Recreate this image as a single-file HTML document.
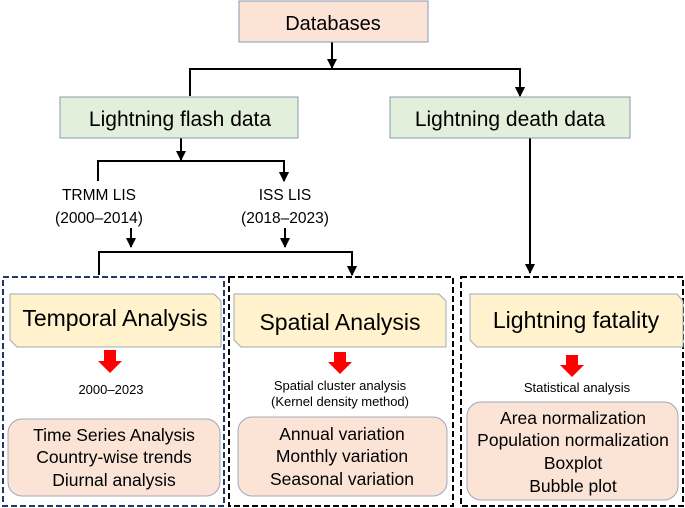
<!DOCTYPE html>
<html><head><meta charset="utf-8"><style>
body{margin:0;background:#fff}
svg{display:block;font-family:"Liberation Sans",Arial,sans-serif}
</style></head><body>
<svg width="685" height="508" viewBox="0 0 685 508" xmlns="http://www.w3.org/2000/svg">
<defs>
<marker id="a" viewBox="0 0 10 10" refX="9" refY="5" markerWidth="5" markerHeight="5" orient="auto"><path d="M0,0L10,5L0,10z" fill="#000"/></marker>
</defs>
<g stroke="#000" stroke-width="2" fill="none">
<path d="M332,42V68" marker-end="url(#a)"/>
<path d="M190,96V69H520V96" marker-end="url(#a)"/>
<path d="M520,69V96" marker-end="url(#a)"/>
<path d="M181,138V160" marker-end="url(#a)"/>
<path d="M98,181V161H284V181" marker-end="url(#a)"/>
<path d="M284,161V181" marker-end="url(#a)"/>
<path d="M131,228V247" marker-end="url(#a)"/>
<path d="M285,228V247" marker-end="url(#a)"/>
<path d="M99,275V252H352V275" marker-end="url(#a)"/>
<path d="M352,252V275" marker-end="url(#a)"/>
<path d="M530,138V273" marker-end="url(#a)"/>
</g>
<rect x="239" y="1" width="189" height="41" fill="#fbe3d6" stroke="#8a9ab5" stroke-width="1"/>
<text x="333" y="30" font-size="20" text-anchor="middle">Databases</text>
<rect x="60" y="97" width="238" height="41" fill="#e2efda" stroke="#8a9ab5" stroke-width="1"/>
<text x="180" y="126" font-size="21" text-anchor="middle">Lightning flash data</text>
<rect x="390" y="97" width="240" height="41" fill="#e2efda" stroke="#8a9ab5" stroke-width="1"/>
<text x="510" y="126" font-size="21" text-anchor="middle">Lightning death data</text>
<g font-size="15.5" text-anchor="middle">
<text x="99" y="200">TRMM LIS</text><text x="99" y="223">(2000–2014)</text>
<text x="285" y="200">ISS LIS</text><text x="285" y="223">(2018–2023)</text>
</g>
<rect x="3" y="277" width="221" height="229" fill="none" stroke="#1f3864" stroke-width="2" stroke-dasharray="6,3"/>
<rect x="229" y="277" width="224" height="229" fill="none" stroke="#000" stroke-width="2" stroke-dasharray="6,3"/>
<rect x="461" y="277" width="222" height="229" fill="none" stroke="#000" stroke-width="2" stroke-dasharray="6,3"/>
<g fill="#fff2cc" stroke="#a0a8b8" stroke-width="1">
<path d="M10,294H214L221,301V347H17L10,340z"/>
<path d="M234,294H439L446,301V347H241L234,340z"/>
<path d="M470,294H677L683,301V347H477L470,340z"/>
</g>
<g font-size="23" text-anchor="middle">
<text x="115" y="326">Temporal Analysis</text>
<text x="340" y="330">Spatial Analysis</text>
<text x="576" y="328">Lightning fatality</text>
</g>
<g fill="#f00">
<path d="M104,350H116V361H122L110,373L98,361H104z"/>
<path d="M334,352H346V362H352L340,374L328,362H334z"/>
<path d="M566,355H578V365H584L572,377L560,365H566z"/>
</g>
<g font-size="13" text-anchor="middle">
<text x="111" y="394">2000–2023</text>
<text x="340" y="390">Spatial cluster analysis</text>
<text x="340" y="406">(Kernel density method)</text>
<text x="577" y="392">Statistical analysis</text>
</g>
<g fill="#fbe3d6" stroke="#a0a8b8" stroke-width="1">
<rect x="8" y="419" width="212" height="77" rx="14"/>
<rect x="238" y="417" width="209" height="79" rx="14"/>
<rect x="467" y="402" width="211" height="98" rx="14"/>
</g>
<g font-size="17.5" text-anchor="middle">
<text x="114" y="441">Time Series Analysis</text>
<text x="114" y="463">Country-wise trends</text>
<text x="114" y="486">Diurnal analysis</text>
<text x="342" y="440">Annual variation</text>
<text x="342" y="462">Monthly variation</text>
<text x="342" y="485">Seasonal variation</text>
<text x="573" y="424">Area normalization</text>
<text x="573" y="446">Population normalization</text>
<text x="573" y="469">Boxplot</text>
<text x="573" y="492">Bubble plot</text>
</g>
</svg>
</body></html>
